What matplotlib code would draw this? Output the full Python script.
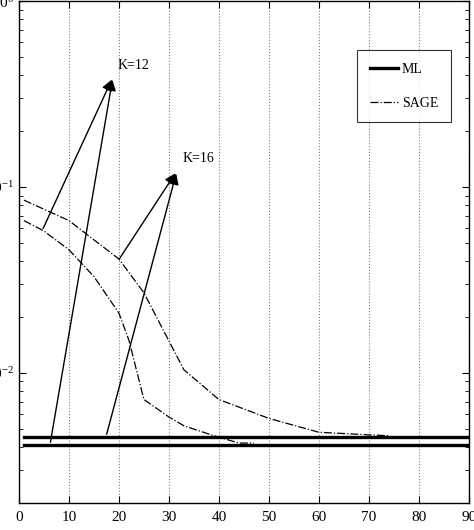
import numpy as np
import matplotlib
matplotlib.use('Agg')
import matplotlib.pyplot as plt

plt.rcParams['font.family'] = ['Liberation Serif', 'DejaVu Serif']
plt.rcParams['mathtext.fontset'] = 'stix'

# ML reference levels (K=12 lower, K=16 upper)
ml_x = [1, 90]
ml_k12 = [0.0041, 0.0041]
ml_k16 = [0.00453, 0.00453]

# SAGE curves
sage_k16_x = [1, 10, 20, 25, 33, 40, 50, 60, 70, 74]
sage_k16_y = [0.085, 0.066, 0.041, 0.027, 0.0104, 0.0072, 0.0057, 0.0048, 0.00465, 0.0046]
sage_k12_x = [1, 5, 10, 15, 20, 22, 25, 30, 33, 39, 44, 47]
sage_k12_y = [0.066, 0.058, 0.046, 0.033, 0.021, 0.015, 0.0072, 0.0058, 0.0052, 0.0046, 0.0042, 0.0042]

fig = plt.figure(figsize=(4.74, 5.30), dpi=100)
ax = fig.add_axes([0.040, 0.051, 0.949, 0.947])

ax.plot(ml_x, ml_k12, color='black', lw=2.4, label='ML')
ax.plot(ml_x, ml_k16, color='black', lw=2.4)
ax.plot(sage_k16_x, sage_k16_y, color='black', lw=0.9, ls='-.', label='SAGE')
ax.plot(sage_k12_x, sage_k12_y, color='black', lw=0.9, ls='-.')

ax.set_yscale('log')
ax.set_xlim(0, 90)
ax.set_ylim(2e-3, 1)
ax.set_xticks(np.arange(0, 91, 10))
ax.grid(axis='x', color='gray', ls=':', lw=0.8)
ax.tick_params(which='both', direction='in', top=True, right=True, labelsize=11)
ax.tick_params(which='major', length=5)
ax.tick_params(which='minor', length=3)
ax.tick_params(axis='x', pad=6)
for s in ax.spines.values():
    s.set_linewidth(1.0)

arr = dict(arrowstyle='-|>', color='black', lw=1.0, mutation_scale=16)
ax.annotate('', xy=(18.8, 0.39), xytext=(4.6, 0.058), arrowprops=arr)
ax.annotate('', xy=(18.8, 0.39), xytext=(6.2, 0.0041), arrowprops=arr)
ax.annotate('', xy=(31.6, 0.122), xytext=(19.8, 0.040), arrowprops=arr)
ax.annotate('', xy=(31.6, 0.122), xytext=(17.4, 0.00453), arrowprops=arr)
ax.text(19.8, 0.45, 'K=12', fontsize=10, va='center')
ax.text(32.8, 0.143, 'K=16', fontsize=10, va='center')

leg = ax.legend(loc='upper right', bbox_to_anchor=(0.96, 0.902), fontsize=10,
                fancybox=False, edgecolor='black', handlelength=2.0,
                handletextpad=0.3, labelspacing=1.5, borderpad=0.9,
                borderaxespad=0)
leg.get_frame().set_linewidth(0.8)

fig.savefig('out.png', dpi=100)
